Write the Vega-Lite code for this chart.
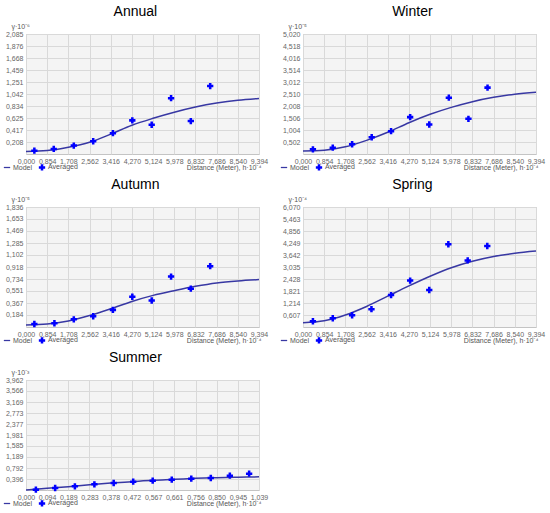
{
  "$schema": "https://vega.github.io/schema/vega-lite/v6.json",
  "description": "Semivariograms: model vs averaged, five periods.",
  "padding": {"left": 2, "top": 4, "right": 0, "bottom": 0},
  "background": "white",
  "config": {
    "font": "Liberation Sans",
    "view": {"stroke": "#c4c4c4", "fill": "#f4f4f4"},
    "axis": {
      "labelFontSize": 7,
      "labelColor": "#666666",
      "labelFont": "Liberation Sans",
      "grid": true,
      "gridColor": "#d9d9d9",
      "domain": false,
      "ticks": false,
      "labelPadding": 3,
      "labelOverlap": false,
      "labelFlush": false,
      "labelBound": false,
      "titleFont": "Liberation Sans",
      "titleFontSize": 7,
      "titleFontWeight": "normal",
      "titleColor": "#555555"
    },
    "title": {"font": "Liberation Sans", "fontSize": 14, "fontWeight": 400, "color": "#000000", "offset": 3},
    "style": {"group-title": {"font": "Liberation Sans", "fontSize": 14, "fontWeight": 400, "color": "#000000"}},
    "legend": {
      "orient": "none",
      "direction": "horizontal",
      "legendX": -23,
      "padding": 0,
      "labelFontSize": 7,
      "labelColor": "#555555",
      "labelFont": "Liberation Sans",
      "symbolSize": 40,
      "columnPadding": 5,
      "labelOffset": 2
    }
  },
  "columns": 2,
  "spacing": {"row": 53, "column": 44},
  "bounds": "flush",
  "resolve": {"scale": {"color": "independent", "shape": "independent"}, "legend": {"color": "independent", "shape": "independent"}},
  "concat": [
    {
      "title": {"text": "Annual", "frame": "bounds", "fontWeight": 400},
      "width": 233,
      "height": 120,
      "layer": [
        {
          "data": {"values": [
            {"h": 0, "g": 0.045}, {"h": 0.854, "g": 0.06}, {"h": 1.708, "g": 0.117}, {"h": 2.562, "g": 0.205},
            {"h": 3.416, "g": 0.345}, {"h": 4.27, "g": 0.5}, {"h": 5.124, "g": 0.62}, {"h": 5.978, "g": 0.725},
            {"h": 6.832, "g": 0.815}, {"h": 7.686, "g": 0.885}, {"h": 8.54, "g": 0.935}, {"h": 9.394, "g": 0.965}
          ]},
          "mark": {"type": "line", "interpolate": "monotone", "color": "#3838a3", "strokeWidth": 1.5}
        },
        {
          "data": {"values": [
            {"h": 0.337, "g": 0.058}, {"h": 1.119, "g": 0.088}, {"h": 1.927, "g": 0.146}, {"h": 2.709, "g": 0.222},
            {"h": 3.504, "g": 0.362}, {"h": 4.286, "g": 0.584}, {"h": 5.068, "g": 0.508}, {"h": 5.849, "g": 0.97},
            {"h": 6.645, "g": 0.572}, {"h": 7.426, "g": 1.18}
          ]},
          "mark": {"type": "point", "filled": true, "size": 40, "opacity": 1},
          "encoding": {
            "color": {"datum": "Averaged", "type": "nominal", "scale": {"domain": ["Model", "Averaged"], "range": ["#3838a3", "#0000ff"]}, "legend": {"title": null, "legendY": 129}},
            "shape": {"datum": "Averaged", "type": "nominal", "scale": {"domain": ["Model", "Averaged"], "range": ["M-1,-0.2L1,-0.2L1,0.2L-1,0.2Z", "cross"]}, "legend": {"title": null, "legendY": 129}}
          }
        }
      ],
      "encoding": {
        "x": {"field": "h", "type": "quantitative", "scale": {"domain": [0, 9.394], "nice": false, "zero": false},
          "axis": {"values": [0, 0.854, 1.708, 2.562, 3.416, 4.27, 5.124, 5.978, 6.832, 7.686, 8.54, 9.394],
            "labelExpr": "replace(format(datum.value, '.3f'), '.', ',')",
            "title": "Distance (Meter), h·10⁻⁴", "titleAnchor": "end", "titleAlign": "right", "titleX": 235, "titleY": 13, "titleBaseline": "middle"}},
        "y": {"field": "g", "type": "quantitative", "scale": {"domain": [0, 2.085], "nice": false},
          "axis": {"values": [0.208, 0.417, 0.625, 0.834, 1.042, 1.251, 1.459, 1.668, 1.876, 2.085],
            "labelExpr": "replace(format(datum.value, '.3f'), '.', ',')",
            "title": "γ·10⁻⁶", "titleAngle": 0, "titleAlign": "left", "titleX": -15, "titleY": -8, "titleBaseline": "middle"}}
      }
    },
    {
      "title": {"text": "Winter", "frame": "bounds", "fontWeight": 400},
      "width": 233,
      "height": 120,
      "layer": [
        {
          "data": {"values": [
            {"h": 0, "g": 0.13}, {"h": 0.854, "g": 0.16}, {"h": 1.708, "g": 0.3}, {"h": 2.562, "g": 0.57},
            {"h": 3.416, "g": 0.91}, {"h": 4.27, "g": 1.31}, {"h": 5.124, "g": 1.66}, {"h": 5.978, "g": 1.95},
            {"h": 6.832, "g": 2.19}, {"h": 7.686, "g": 2.37}, {"h": 8.54, "g": 2.5}, {"h": 9.394, "g": 2.58}
          ]},
          "mark": {"type": "line", "interpolate": "monotone", "color": "#3838a3", "strokeWidth": 1.5}
        },
        {
          "data": {"values": [
            {"h": 0.4, "g": 0.196}, {"h": 1.2, "g": 0.266}, {"h": 1.98, "g": 0.407}, {"h": 2.77, "g": 0.701},
            {"h": 3.55, "g": 0.954}, {"h": 4.32, "g": 1.543}, {"h": 5.09, "g": 1.234}, {"h": 5.88, "g": 2.356},
            {"h": 6.67, "g": 1.473}, {"h": 7.44, "g": 2.777}
          ]},
          "mark": {"type": "point", "filled": true, "size": 40, "opacity": 1},
          "encoding": {
            "color": {"datum": "Averaged", "type": "nominal", "scale": {"domain": ["Model", "Averaged"], "range": ["#3838a3", "#0000ff"]}, "legend": {"title": null, "legendY": 129}},
            "shape": {"datum": "Averaged", "type": "nominal", "scale": {"domain": ["Model", "Averaged"], "range": ["M-1,-0.2L1,-0.2L1,0.2L-1,0.2Z", "cross"]}, "legend": {"title": null, "legendY": 129}}
          }
        }
      ],
      "encoding": {
        "x": {"field": "h", "type": "quantitative", "scale": {"domain": [0, 9.394], "nice": false, "zero": false},
          "axis": {"values": [0, 0.854, 1.708, 2.562, 3.416, 4.27, 5.124, 5.978, 6.832, 7.686, 8.54, 9.394],
            "labelExpr": "replace(format(datum.value, '.3f'), '.', ',')",
            "title": "Distance (Meter), h·10⁻⁴", "titleAnchor": "end", "titleAlign": "right", "titleX": 235, "titleY": 13, "titleBaseline": "middle"}},
        "y": {"field": "g", "type": "quantitative", "scale": {"domain": [0, 5.02], "nice": false},
          "axis": {"values": [0.502, 1.004, 1.506, 2.008, 2.51, 3.012, 3.514, 4.016, 4.518, 5.02],
            "labelExpr": "replace(format(datum.value, '.3f'), '.', ',')",
            "title": "γ·10⁻⁵", "titleAngle": 0, "titleAlign": "left", "titleX": -15, "titleY": -8, "titleBaseline": "middle"}}
      }
    },
    {
      "title": {"text": "Autumn", "frame": "bounds", "fontWeight": 400},
      "width": 233,
      "height": 120,
      "layer": [
        {
          "data": {"values": [
            {"h": 0, "g": 0.031}, {"h": 0.854, "g": 0.046}, {"h": 1.708, "g": 0.093}, {"h": 2.562, "g": 0.175},
            {"h": 3.416, "g": 0.278}, {"h": 4.27, "g": 0.391}, {"h": 5.124, "g": 0.484}, {"h": 5.978, "g": 0.556},
            {"h": 6.832, "g": 0.622}, {"h": 7.686, "g": 0.674}, {"h": 8.54, "g": 0.705}, {"h": 9.394, "g": 0.725}
          ]},
          "mark": {"type": "line", "interpolate": "monotone", "color": "#3838a3", "strokeWidth": 1.5}
        },
        {
          "data": {"values": [
            {"h": 0.337, "g": 0.046}, {"h": 1.146, "g": 0.057}, {"h": 1.927, "g": 0.118}, {"h": 2.709, "g": 0.165},
            {"h": 3.504, "g": 0.262}, {"h": 4.286, "g": 0.463}, {"h": 5.068, "g": 0.406}, {"h": 5.849, "g": 0.772},
            {"h": 6.645, "g": 0.586}, {"h": 7.426, "g": 0.931}
          ]},
          "mark": {"type": "point", "filled": true, "size": 40, "opacity": 1},
          "encoding": {
            "color": {"datum": "Averaged", "type": "nominal", "scale": {"domain": ["Model", "Averaged"], "range": ["#3838a3", "#0000ff"]}, "legend": {"title": null, "legendY": 129}},
            "shape": {"datum": "Averaged", "type": "nominal", "scale": {"domain": ["Model", "Averaged"], "range": ["M-1,-0.2L1,-0.2L1,0.2L-1,0.2Z", "cross"]}, "legend": {"title": null, "legendY": 129}}
          }
        }
      ],
      "encoding": {
        "x": {"field": "h", "type": "quantitative", "scale": {"domain": [0, 9.394], "nice": false, "zero": false},
          "axis": {"values": [0, 0.854, 1.708, 2.562, 3.416, 4.27, 5.124, 5.978, 6.832, 7.686, 8.54, 9.394],
            "labelExpr": "replace(format(datum.value, '.3f'), '.', ',')",
            "title": "Distance (Meter), h·10⁻⁴", "titleAnchor": "end", "titleAlign": "right", "titleX": 235, "titleY": 13, "titleBaseline": "middle"}},
        "y": {"field": "g", "type": "quantitative", "scale": {"domain": [0, 1.836], "nice": false},
          "axis": {"values": [0.184, 0.367, 0.551, 0.734, 0.918, 1.102, 1.285, 1.469, 1.653, 1.836],
            "labelExpr": "replace(format(datum.value, '.3f'), '.', ',')",
            "title": "γ·10⁻⁵", "titleAngle": 0, "titleAlign": "left", "titleX": -15, "titleY": -8, "titleBaseline": "middle"}}
      }
    },
    {
      "title": {"text": "Spring", "frame": "bounds", "fontWeight": 400},
      "width": 233,
      "height": 120,
      "layer": [
        {
          "data": {"values": [
            {"h": 0, "g": 0.22}, {"h": 0.854, "g": 0.32}, {"h": 1.708, "g": 0.61}, {"h": 2.562, "g": 1.04},
            {"h": 3.416, "g": 1.56}, {"h": 4.27, "g": 2.08}, {"h": 5.124, "g": 2.57}, {"h": 5.978, "g": 3.0},
            {"h": 6.832, "g": 3.33}, {"h": 7.686, "g": 3.57}, {"h": 8.54, "g": 3.73}, {"h": 9.394, "g": 3.84}
          ]},
          "mark": {"type": "line", "interpolate": "monotone", "color": "#3838a3", "strokeWidth": 1.5}
        },
        {
          "data": {"values": [
            {"h": 0.4, "g": 0.289}, {"h": 1.2, "g": 0.442}, {"h": 1.98, "g": 0.595}, {"h": 2.76, "g": 0.901},
            {"h": 3.55, "g": 1.616}, {"h": 4.32, "g": 2.347}, {"h": 5.09, "g": 1.871}, {"h": 5.86, "g": 4.184},
            {"h": 6.64, "g": 3.367}, {"h": 7.43, "g": 4.099}
          ]},
          "mark": {"type": "point", "filled": true, "size": 40, "opacity": 1},
          "encoding": {
            "color": {"datum": "Averaged", "type": "nominal", "scale": {"domain": ["Model", "Averaged"], "range": ["#3838a3", "#0000ff"]}, "legend": {"title": null, "legendY": 129}},
            "shape": {"datum": "Averaged", "type": "nominal", "scale": {"domain": ["Model", "Averaged"], "range": ["M-1,-0.2L1,-0.2L1,0.2L-1,0.2Z", "cross"]}, "legend": {"title": null, "legendY": 129}}
          }
        }
      ],
      "encoding": {
        "x": {"field": "h", "type": "quantitative", "scale": {"domain": [0, 9.394], "nice": false, "zero": false},
          "axis": {"values": [0, 0.854, 1.708, 2.562, 3.416, 4.27, 5.124, 5.978, 6.832, 7.686, 8.54, 9.394],
            "labelExpr": "replace(format(datum.value, '.3f'), '.', ',')",
            "title": "Distance (Meter), h·10⁻⁴", "titleAnchor": "end", "titleAlign": "right", "titleX": 235, "titleY": 13, "titleBaseline": "middle"}},
        "y": {"field": "g", "type": "quantitative", "scale": {"domain": [0, 6.07], "nice": false},
          "axis": {"values": [0.607, 1.214, 1.821, 2.428, 3.035, 3.642, 4.249, 4.856, 5.463, 6.07],
            "labelExpr": "replace(format(datum.value, '.3f'), '.', ',')",
            "title": "γ·10⁻⁴", "titleAngle": 0, "titleAlign": "left", "titleX": -15, "titleY": -8, "titleBaseline": "middle"}}
      }
    },
    {
      "title": {"text": "Summer", "frame": "bounds", "fontWeight": 400},
      "width": 233,
      "height": 110,
      "layer": [
        {
          "data": {"values": [
            {"h": 0, "g": 0.0}, {"h": 0.094, "g": 0.06}, {"h": 0.189, "g": 0.12}, {"h": 0.283, "g": 0.19},
            {"h": 0.378, "g": 0.25}, {"h": 0.472, "g": 0.3}, {"h": 0.567, "g": 0.35}, {"h": 0.661, "g": 0.383},
            {"h": 0.756, "g": 0.42}, {"h": 0.85, "g": 0.443}, {"h": 0.945, "g": 0.458}, {"h": 1.039, "g": 0.475}
          ]},
          "mark": {"type": "line", "interpolate": "monotone", "color": "#3838a3", "strokeWidth": 1.5}
        },
        {
          "data": {"values": [
            {"h": 0.044, "g": 0.012}, {"h": 0.13, "g": 0.072}, {"h": 0.218, "g": 0.132}, {"h": 0.305, "g": 0.204},
            {"h": 0.391, "g": 0.251}, {"h": 0.478, "g": 0.299}, {"h": 0.565, "g": 0.335}, {"h": 0.65, "g": 0.371},
            {"h": 0.737, "g": 0.407}, {"h": 0.824, "g": 0.431}, {"h": 0.909, "g": 0.515}, {"h": 0.995, "g": 0.587}
          ]},
          "mark": {"type": "point", "filled": true, "size": 40, "opacity": 1},
          "encoding": {
            "color": {"datum": "Averaged", "type": "nominal", "scale": {"domain": ["Model", "Averaged"], "range": ["#3838a3", "#0000ff"]}, "legend": {"title": null, "legendY": 119}},
            "shape": {"datum": "Averaged", "type": "nominal", "scale": {"domain": ["Model", "Averaged"], "range": ["M-1,-0.2L1,-0.2L1,0.2L-1,0.2Z", "cross"]}, "legend": {"title": null, "legendY": 119}}
          }
        }
      ],
      "encoding": {
        "x": {"field": "h", "type": "quantitative", "scale": {"domain": [0, 1.039], "nice": false, "zero": false},
          "axis": {"values": [0, 0.094, 0.189, 0.283, 0.378, 0.472, 0.567, 0.661, 0.756, 0.85, 0.945, 1.039],
            "labelExpr": "replace(format(datum.value, '.3f'), '.', ',')",
            "title": "Distance (Meter), h·10⁻⁴", "titleAnchor": "end", "titleAlign": "right", "titleX": 235, "titleY": 13, "titleBaseline": "middle"}},
        "y": {"field": "g", "type": "quantitative", "scale": {"domain": [0, 3.962], "nice": false},
          "axis": {"values": [0.396, 0.792, 1.189, 1.585, 1.981, 2.377, 2.773, 3.169, 3.566, 3.962],
            "labelExpr": "replace(format(datum.value, '.3f'), '.', ',')",
            "title": "γ·10⁻³", "titleAngle": 0, "titleAlign": "left", "titleX": -15, "titleY": -8, "titleBaseline": "middle"}}
      }
    }
  ]
}
